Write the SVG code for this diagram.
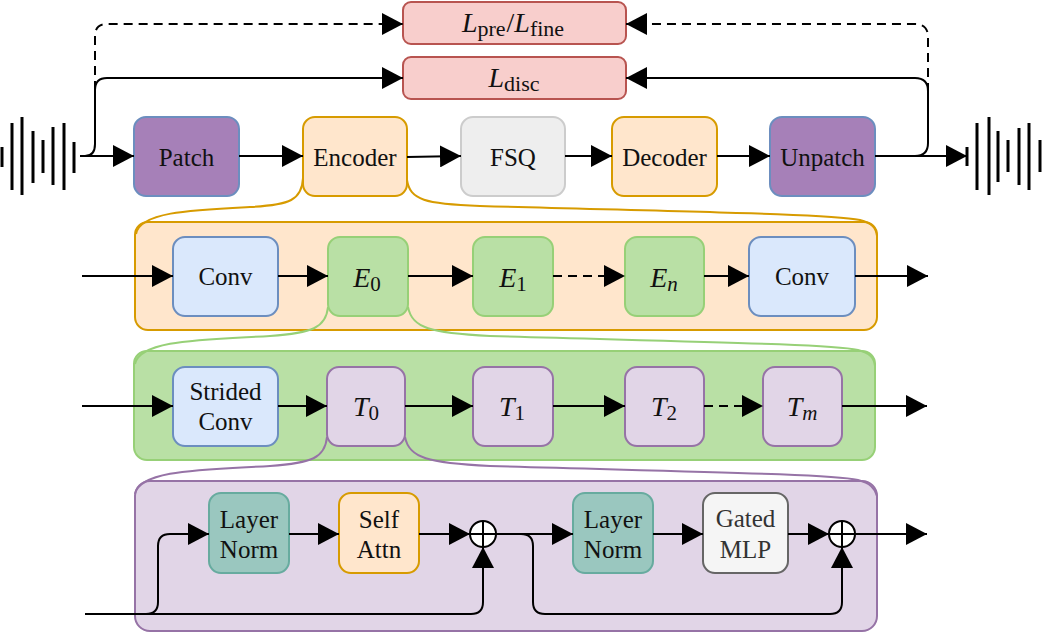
<svg xmlns="http://www.w3.org/2000/svg" width="1043" height="634" viewBox="0 0 1043 634" font-family="'Liberation Serif', 'Times New Roman', Times, 'DejaVu Serif', serif">
<style>
  text{font-family:'Liberation Serif','Times New Roman',Times,'DejaVu Serif',serif;fill:#111}
  .t{font-size:25px;text-anchor:middle}
  .m{font-size:28px;text-anchor:middle}
  .it{font-style:italic}
  .ln{fill:none;stroke:#000;stroke-width:2}
  .dash{stroke-dasharray:9 6}
  .wav{stroke:#000;stroke-width:3}
</style>
<defs>
  <marker id="ah" markerUnits="userSpaceOnUse" markerWidth="21" markerHeight="22" refX="21" refY="11" orient="auto" viewBox="0 0 21 22">
    <path d="M0,0 L21,11 L0,22 Z" fill="#000"/>
  </marker>
</defs>

<!-- containers -->
<g id="enc-container">
  <rect x="135" y="222" width="742" height="108" rx="13" fill="#ffe6cc" stroke="#d79b00" stroke-width="2"/>
  <path d="M303,178 C302,200 290,205 250,207 C190,210 140,212 136,234" fill="none" stroke="#d79b00" stroke-width="2"/>
  <path d="M407,180 C410,200 425,204 480,206 C700,212 830,214 860,220 C872,223 876,228 877,236" fill="none" stroke="#d79b00" stroke-width="2"/>
</g>
<g id="blk-container">
  <rect x="134" y="351" width="741" height="109" rx="13" fill="#b9e0a5" stroke="#97d077" stroke-width="2"/>
  <path d="M328,307 C326,328 312,333 270,336 C200,340 140,340 135,364" fill="none" stroke="#97d077" stroke-width="2"/>
  <path d="M408,307 C412,328 430,333 490,336 C700,342 830,344 858,350 C870,353 874,358 875,366" fill="none" stroke="#97d077" stroke-width="2"/>
</g>
<g id="tf-container">
  <rect x="135" y="481" width="742" height="150" rx="15" fill="#e1d5e7" stroke="#9673a6" stroke-width="2"/>
  <path d="M327,437 C325,458 312,463 270,466 C200,470 140,470 135,494" fill="none" stroke="#9673a6" stroke-width="2"/>
  <path d="M405,437 C409,458 428,463 490,466 C700,472 830,474 858,480 C870,483 875,488 877,496" fill="none" stroke="#9673a6" stroke-width="2"/>
</g>

<!-- waveforms -->
<g id="wave-in">
  <line class="wav" x1="2" y1="147" x2="2" y2="167"/>
  <line class="wav" x1="12" y1="123" x2="12" y2="190"/>
  <line class="wav" x1="22" y1="117" x2="22" y2="195"/>
  <line class="wav" x1="33" y1="131" x2="33" y2="183"/>
  <line class="wav" x1="43" y1="140" x2="43" y2="173"/>
  <line class="wav" x1="53" y1="127" x2="53" y2="185"/>
  <line class="wav" x1="64" y1="123" x2="64" y2="190"/>
  <line class="wav" x1="74" y1="142" x2="74" y2="173"/>
</g>
<g id="wave-out">
  <line class="wav" x1="977" y1="123" x2="977" y2="190"/>
  <line class="wav" x1="989" y1="117" x2="989" y2="195"/>
  <line class="wav" x1="998" y1="131" x2="998" y2="182"/>
  <line class="wav" x1="1008" y1="140" x2="1008" y2="172"/>
  <line class="wav" x1="1019" y1="128" x2="1019" y2="185"/>
  <line class="wav" x1="1029" y1="123" x2="1029" y2="190"/>
  <line class="wav" x1="1040" y1="140" x2="1040" y2="172"/>
</g>

<!-- top row nodes -->
<g id="loss-pre">
  <rect x="403" y="2" width="223" height="42" rx="8" fill="#f8cecc" stroke="#b85450" stroke-width="2"/>
  <text x="513" y="32" text-anchor="middle"><tspan class="it" font-size="28">L</tspan><tspan font-size="22" dy="4">pre</tspan><tspan font-size="28" dy="-4" dx="1">/</tspan><tspan class="it" font-size="28">L</tspan><tspan font-size="22" dy="4">fine</tspan></text>
</g>
<g id="loss-disc">
  <rect x="403" y="57" width="223" height="42" rx="8" fill="#f8cecc" stroke="#b85450" stroke-width="2"/>
  <text x="514" y="87" text-anchor="middle"><tspan class="it" font-size="28">L</tspan><tspan font-size="22" dy="4">disc</tspan></text>
</g>
<g id="patch">
  <rect x="134" y="117" width="105" height="79" rx="12" fill="#a680b8" stroke="#6c8ebf" stroke-width="2"/>
  <text class="t" x="186.5" y="166">Patch</text>
</g>
<g id="encoder">
  <rect x="303" y="117" width="104" height="79" rx="12" fill="#ffe6cc" stroke="#d79b00" stroke-width="2"/>
  <text class="t" x="355" y="166">Encoder</text>
</g>
<g id="fsq">
  <rect x="461" y="117" width="104" height="79" rx="12" fill="#eeeeee" stroke="#cccccc" stroke-width="2"/>
  <text class="t" x="513" y="166">FSQ</text>
</g>
<g id="decoder">
  <rect x="612" y="117" width="105" height="79" rx="12" fill="#ffe6cc" stroke="#d79b00" stroke-width="2"/>
  <text class="t" x="664.5" y="166">Decoder</text>
</g>
<g id="unpatch">
  <rect x="770" y="117" width="105" height="79" rx="12" fill="#a680b8" stroke="#6c8ebf" stroke-width="2"/>
  <text class="t" x="822.5" y="166">Unpatch</text>
</g>

<!-- encoder row -->
<g id="conv1">
  <rect x="173" y="237" width="105" height="79" rx="12" fill="#dae8fc" stroke="#6c8ebf" stroke-width="2"/>
  <text class="t" x="225.5" y="285">Conv</text>
</g>
<g id="e0">
  <rect x="328" y="237" width="80" height="79" rx="12" fill="#b9e0a5" stroke="#97d077" stroke-width="2"/>
  <text class="m" x="367" y="287"><tspan class="it">E</tspan><tspan font-size="21" dy="4">0</tspan></text>
</g>
<g id="e1">
  <rect x="473" y="237" width="80" height="79" rx="12" fill="#b9e0a5" stroke="#97d077" stroke-width="2"/>
  <text class="m" x="513" y="287"><tspan class="it">E</tspan><tspan font-size="21" dy="4">1</tspan></text>
</g>
<g id="en">
  <rect x="625" y="237" width="79" height="79" rx="12" fill="#b9e0a5" stroke="#97d077" stroke-width="2"/>
  <text class="m" x="664" y="287"><tspan class="it">E</tspan><tspan class="it" font-size="21" dy="4">n</tspan></text>
</g>
<g id="conv2">
  <rect x="749" y="237" width="106" height="79" rx="12" fill="#dae8fc" stroke="#6c8ebf" stroke-width="2"/>
  <text class="t" x="802" y="285">Conv</text>
</g>

<!-- block row -->
<g id="strided">
  <rect x="173" y="367" width="105" height="79" rx="12" fill="#dae8fc" stroke="#6c8ebf" stroke-width="2"/>
  <text class="t" x="225.5" y="400">Strided</text>
  <text class="t" x="225.5" y="430">Conv</text>
</g>
<g id="t0">
  <rect x="327" y="367" width="78" height="79" rx="12" fill="#e1d5e7" stroke="#9673a6" stroke-width="2"/>
  <text class="m" x="366" y="416"><tspan class="it">T</tspan><tspan font-size="21" dy="4">0</tspan></text>
</g>
<g id="t1">
  <rect x="473" y="367" width="80" height="79" rx="12" fill="#e1d5e7" stroke="#9673a6" stroke-width="2"/>
  <text class="m" x="512" y="416"><tspan class="it">T</tspan><tspan font-size="21" dy="4">1</tspan></text>
</g>
<g id="t2">
  <rect x="625" y="367" width="79" height="79" rx="12" fill="#e1d5e7" stroke="#9673a6" stroke-width="2"/>
  <text class="m" x="664" y="416"><tspan class="it">T</tspan><tspan font-size="21" dy="4">2</tspan></text>
</g>
<g id="tm">
  <rect x="763" y="367" width="79" height="79" rx="12" fill="#e1d5e7" stroke="#9673a6" stroke-width="2"/>
  <text class="m" x="802" y="416"><tspan class="it">T</tspan><tspan class="it" font-size="21" dy="4">m</tspan></text>
</g>

<!-- transformer row -->
<g id="ln1">
  <rect x="209" y="493" width="80" height="80" rx="12" fill="#9ac7bf" stroke="#67ab9f" stroke-width="2"/>
  <text class="t" x="249" y="528">Layer</text>
  <text class="t" x="249" y="558">Norm</text>
</g>
<g id="attn">
  <rect x="339" y="493" width="80" height="80" rx="12" fill="#ffe6cc" stroke="#d79b00" stroke-width="2"/>
  <text class="t" x="379" y="528">Self</text>
  <text class="t" x="379" y="558">Attn</text>
</g>
<g id="add1">
  <circle cx="483" cy="534" r="13" fill="#fff" stroke="#000" stroke-width="2"/>
  <path d="M470,534 H496 M483,521 V547" stroke="#000" stroke-width="2"/>
</g>
<g id="ln2">
  <rect x="573" y="493" width="80" height="80" rx="12" fill="#9ac7bf" stroke="#67ab9f" stroke-width="2"/>
  <text class="t" x="613" y="528">Layer</text>
  <text class="t" x="613" y="558">Norm</text>
</g>
<g id="mlp">
  <rect x="703" y="493" width="85" height="80" rx="12" fill="#f5f5f5" stroke="#666666" stroke-width="2"/>
  <text class="t" x="745.5" y="527" style="fill:#333">Gated</text>
  <text class="t" x="745.5" y="558" style="fill:#333">MLP</text>
</g>
<g id="add2">
  <circle cx="842" cy="534" r="13" fill="#fff" stroke="#000" stroke-width="2"/>
  <path d="M829,534 H855 M842,521 V547" stroke="#000" stroke-width="2"/>
</g>

<!-- connectors -->
<g id="connectors">
  <path class="ln" d="M80,156 H134" marker-end="url(#ah)"/>
  <path class="ln" d="M239,156 H303" marker-end="url(#ah)"/>
  <path class="ln" d="M407,157 L461,156" marker-end="url(#ah)"/>
  <path class="ln" d="M565,156 H612" marker-end="url(#ah)"/>
  <path class="ln" d="M717,156 H770" marker-end="url(#ah)"/>
  <path class="ln" d="M875,156 H967" marker-end="url(#ah)"/>
  <line x1="967" y1="147" x2="967" y2="166" stroke="#000" stroke-width="3"/>
  <path class="ln" d="M80,156 H85 Q95,156 95,144 V90 Q95,78 107,78 H403" marker-end="url(#ah)"/>
  <path class="ln dash" d="M95,90 V36 Q95,24 107,24 H403" marker-end="url(#ah)"/>
  <path class="ln" d="M875,156 H915 Q928,156 928,143 V91 Q928,78 915,78 H626" marker-end="url(#ah)"/>
  <path class="ln dash" d="M928,92 V37 Q928,24 915,24 H626" marker-end="url(#ah)"/>
  <path class="ln" d="M82,276 H173" marker-end="url(#ah)"/>
  <path class="ln" d="M278,276 H328" marker-end="url(#ah)"/>
  <path class="ln" d="M408,276 H473" marker-end="url(#ah)"/>
  <path class="ln dash" d="M553,276 H625" marker-end="url(#ah)"/>
  <path class="ln" d="M704,276 H749" marker-end="url(#ah)"/>
  <path class="ln" d="M855,276 H928" marker-end="url(#ah)"/>
  <path class="ln" d="M82,406 H173" marker-end="url(#ah)"/>
  <path class="ln" d="M278,406 H327" marker-end="url(#ah)"/>
  <path class="ln" d="M405,406 H473" marker-end="url(#ah)"/>
  <path class="ln" d="M553,406 H625" marker-end="url(#ah)"/>
  <path class="ln dash" d="M704,406 H763" marker-end="url(#ah)"/>
  <path class="ln" d="M842,406 H927" marker-end="url(#ah)"/>
  <path class="ln" d="M85,614 H146 Q158,614 158,602 V546 Q158,534 170,534 H209" marker-end="url(#ah)"/>
  <path class="ln" d="M146,614 H471 Q483,614 483,602 V547" marker-end="url(#ah)"/>
  <path class="ln" d="M289,534 H339" marker-end="url(#ah)"/>
  <path class="ln" d="M419,534 H470" marker-end="url(#ah)"/>
  <path class="ln" d="M496,534 H573" marker-end="url(#ah)"/>
  <path class="ln" d="M521,534 Q533,534 533,546 V602 Q533,614 545,614 H830 Q842,614 842,602 V547" marker-end="url(#ah)"/>
  <path class="ln" d="M653,534 H703" marker-end="url(#ah)"/>
  <path class="ln" d="M788,534 H829" marker-end="url(#ah)"/>
  <path class="ln" d="M855,534 H927" marker-end="url(#ah)"/>
</g>
</svg>
